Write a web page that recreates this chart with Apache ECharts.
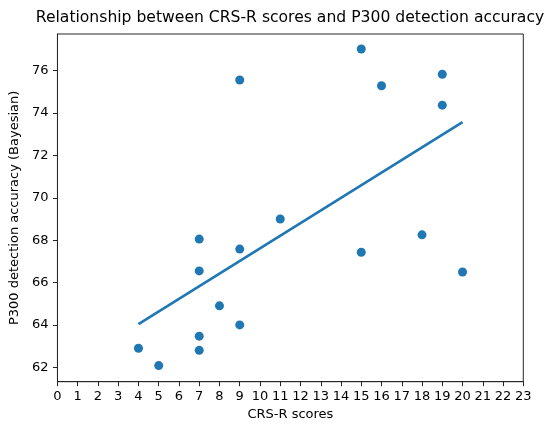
<!DOCTYPE html>
<html>
<head>
<meta charset="utf-8">
<script src="https://cdn.jsdelivr.net/npm/echarts@6/dist/echarts.min.js"></script>
<style>
  html, body { margin: 0; padding: 0; background: #fff; }
  #chart { width: 550px; height: 426px; }
</style>
</head>
<body>
<div id="chart"></div>
<script>
const crsScores = [4, 5, 7, 7, 7, 7, 8, 9, 9, 9, 11, 15, 15, 16, 18, 19, 19, 20]
const p300Accuracy = [62.9, 62.08, 68.05, 66.55, 63.47, 62.8, 64.9, 67.58, 64.0, 75.56, 69.0, 77.02, 67.43, 75.29, 68.25, 75.83, 74.37, 66.5]

// fitted line (endpoints at min and max score)
const trendX = [4, 20]
const trendY = [64.04, 73.57]

const xTicks = [0, 1, 2, 3, 4, 5, 6, 7, 8, 9, 10, 11, 12, 13, 14, 15, 16, 17, 18, 19, 20, 21, 22, 23]
const yTicks = [62, 64, 66, 68, 70, 72, 74, 76]

const BLUE = "#1f77b4"
const FONT = "DejaVu Sans"
const SPINE = "#262626"

const chart = echarts.init(document.getElementById("chart"), null, { renderer: "canvas" })

const points = crsScores.map((x, i) => [x, p300Accuracy[i]])
const trend = trendX.map((x, i) => [x, trendY[i]])

chart.setOption({
  animation: false,
  backgroundColor: "#fff",
  title: {
    text: "Relationship between CRS-R scores and P300 detection accuracy",
    left: 290,
    top: 10,
    padding: 0,
    textAlign: "center",
    textStyle: { fontFamily: FONT, fontSize: 15.6, fontWeight: "normal", color: "#000" }
  },
  grid: {
    left: 56.7, right: 26.7, top: 34, bottom: 44.3,
    show: true, borderColor: SPINE, borderWidth: 1, backgroundColor: "transparent"
  },
  xAxis: {
    type: "value",
    min: 0,
    max: 23,
    name: "CRS-R scores",
    nameLocation: "middle",
    nameGap: 26,
    nameTextStyle: { fontFamily: FONT, fontSize: 13, color: "#000" },
    axisLine: { show: true, lineStyle: { color: SPINE, width: 1 } },
    axisTick: { show: true, inside: false, length: 4.5, customValues: xTicks, lineStyle: { color: SPINE } },
    axisLabel: { customValues: xTicks, margin: 8, fontFamily: FONT, fontSize: 13, color: "#000" },
    splitLine: { show: false }
  },
  yAxis: {
    type: "value",
    min: 61.32,
    max: 77.73,
    name: "P300 detection accuracy (Bayesian)",
    nameLocation: "middle",
    nameGap: 35,
    nameTextStyle: { fontFamily: FONT, fontSize: 13, color: "#000" },
    axisLine: { show: true, lineStyle: { color: SPINE, width: 1 } },
    axisTick: { show: true, inside: false, length: 4.5, customValues: yTicks, lineStyle: { color: SPINE } },
    axisLabel: { customValues: yTicks, margin: 9, fontFamily: FONT, fontSize: 13, color: "#000" },
    splitLine: { show: false }
  },
  series: [
    {
      type: "scatter",
      data: points,
      symbolSize: 9,
      itemStyle: { color: BLUE, opacity: 1 }
    },
    {
      type: "line",
      data: trend,
      symbol: "none",
      lineStyle: { color: BLUE, width: 2.6 }
    }
  ]
})
</script>
</body>
</html>
